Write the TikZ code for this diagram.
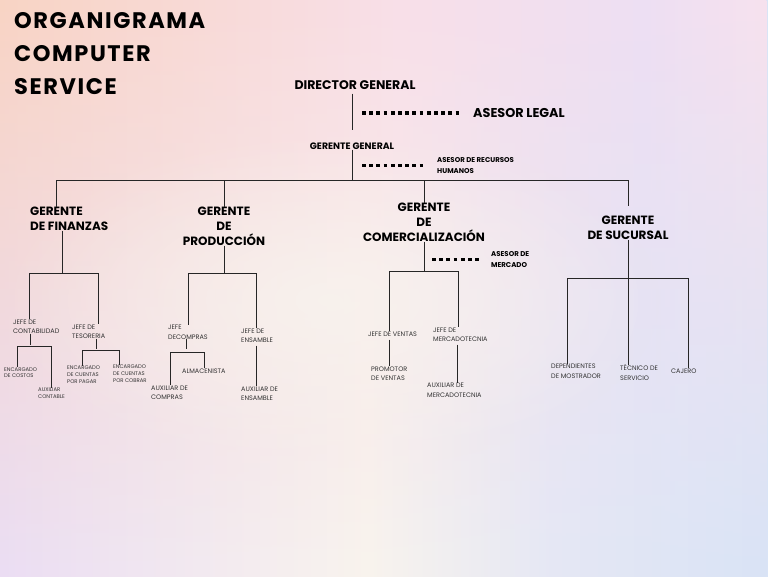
\documentclass[tikz,border=0pt]{standalone}
\usepackage{fontspec}
\setmainfont{Poppins}
\usetikzlibrary{positioning,fadings}
\definecolor{bgpeach}{RGB}{249,212,196}
\definecolor{bgpink}{RGB}{249,223,232}
\definecolor{bglila}{RGB}{238,223,243}
\definecolor{bgrosa}{RGB}{247,225,238}
\definecolor{bglilab}{RGB}{235,222,244}
\definecolor{bgcream}{RGB}{248,244,238}
\definecolor{bgbluel}{RGB}{229,232,245}
\definecolor{bgblue}{RGB}{217,228,246}
\pgfdeclarehorizontalshading{fondoarriba}{100bp}{color(0bp)=(bgpeach); color(25bp)=(bgpeach); color(51bp)=(bgpink); color(67bp)=(bglila); color(75bp)=(bgrosa); color(100bp)=(bgrosa)}
\pgfdeclarehorizontalshading{fondoabajo}{100bp}{color(0bp)=(bglilab); color(25bp)=(bglilab); color(49bp)=(bgcream); color(61bp)=(bgbluel); color(75bp)=(bgblue); color(100bp)=(bgblue)}
\tikzfading[name=arriba, top color=transparent!0, middle color=transparent!45, bottom color=transparent!100]
\tikzfading[name=centro, inner color=transparent!20, outer color=transparent!100]
\tikzset{
  tree/.style={line width=0.9pt, black!85},
  dotline/.style={line width=3.4pt, dash pattern=on 3.8pt off 3.4pt},
  titulo/.style={font=\bfseries\fontsize{22.5}{33}\selectfont\addfontfeatures{LetterSpace=7}, align=left, inner sep=0},
  jefe/.style={font=\bfseries\fontsize{12}{15}\selectfont, inner sep=0},
  asesor/.style={font=\bfseries\fontsize{7}{11}\selectfont, align=left, inner sep=0},
  puesto/.style={font=\fontsize{6.5}{9.5}\selectfont, align=left, inner sep=0, text=black!80},
  aux/.style={font=\fontsize{5.3}{6.7}\selectfont, align=left, inner sep=0, text=black!80}
}
\begin{document}
\begin{tikzpicture}[x=1pt,y=-1pt]
\useasboundingbox (0,0) rectangle (768,576);
\begin{scope}
\clip (0,0) rectangle (768,576);
\shade[shading=fondoabajo] (0,0) rectangle (768,576);
\shade[shading=fondoarriba, path fading=arriba] (0,0) rectangle (768,576);
\fill[bgcream, path fading=centro] (330,300) ellipse (330pt and 170pt);
\end{scope}

\node[titulo, anchor=west] (titulo) at (14,54) {ORGANIGRAMA\\COMPUTER\\SERVICE};

% direccion
\node[jefe, font=\bfseries\fontsize{12.5}{15}\selectfont] (dir) at (355,85) {DIRECTOR GENERAL};
\node[jefe, anchor=west, font=\bfseries\fontsize{12.8}{15}\selectfont] (legal) at (473,113) {ASESOR LEGAL};
\node[jefe, font=\bfseries\fontsize{9.3}{11}\selectfont] (gg) at (352,146) {GERENTE GENERAL};
\node[asesor, anchor=west] (rh) at (437,165.5) {ASESOR DE RECURSOS\\HUMANOS};
\coordinate (bus) at (0,180);

\draw[tree, shorten <=4pt, shorten >=12pt] (dir.south -| gg.north) -- (gg.north);
\draw[dotline, shorten <=10pt, shorten >=11pt] (legal.west -| gg.north) -- (legal.west);
\draw[dotline, shorten <=10pt, shorten >=12pt] (rh.west -| gg.south) -- (rh.west);
\draw[tree] (gg.south) -- (gg.south |- bus);

% gerencias
\node[jefe, anchor=west, align=left] (fin) at (30,218.5) {GERENTE\\DE FINANZAS};
\node[jefe, align=center] (prod) at (224,226) {GERENTE\\DE\\PRODUCCIÓN};
\node[jefe, align=center] (com) at (424,222) {GERENTE\\DE\\COMERCIALIZACIÓN};
\node[jefe, align=center] (suc) at (628,228) {GERENTE\\DE SUCURSAL};
\node[asesor, anchor=west] (merc) at (491,259.5) {ASESOR DE\\MERCADO};

\draw[tree] ([xshift=26]fin.north west) |- (suc.north |- bus) -- ([yshift=10]suc.north);
\draw[tree] (prod.north) -- (prod.north |- bus);
\draw[tree] (com.north) -- (com.north |- bus);
\draw[dotline, shorten <=8pt, shorten >=12pt] (merc.west -| com.south) -- (merc.west);

% finanzas
\node[puesto, anchor=west] (contab) at (13,326.5) {JEFE DE\\CONTABILIDAD};
\node[puesto, anchor=west] (tes) at (72,331.5) {JEFE DE\\TESORERIA};
\node[aux, anchor=west] (costos) at (4,372.5) {ENCARGADO\\DE COSTOS};
\node[aux, anchor=west] (auxcont) at (38,393.5) {AUXILIAR\\CONTABLE};
\node[aux, anchor=west] (pagar) at (67,374.5) {ENCARGADO\\DE CUENTAS\\POR PAGAR};
\node[aux, anchor=west] (cobrar) at (113,373.5) {ENCARGADO\\DE CUENTAS\\POR COBRAR};
\coordinate (finbus) at (0,273);
\draw[tree] ([xshift=32]fin.south west) -- ([xshift=32]fin.south west |- finbus);
\draw[tree] ([xshift=16]contab.north west) |- ([xshift=26]tes.north west |- finbus) -- ([xshift=26]tes.north west);
\draw[tree] ([xshift=17]contab.south west) -- ++(0,11);
\draw[tree] ([xshift=13]costos.north west) |- ([xshift=13]auxcont.north west |- 0,346) -- ([xshift=13]auxcont.north west);
\draw[tree] ([xshift=24]tes.south west) -- ++(0,10);
\draw[tree] ([xshift=15]pagar.north west) |- ([xshift=6]cobrar.north west |- 0,350) -- ([xshift=6]cobrar.north west);

% produccion
\node[puesto, anchor=west] (jcomp) at (168,332) {JEFE\\DECOMPRAS};
\node[puesto, anchor=west] (jens) at (241,335.5) {JEFE DE\\ENSAMBLE};
\node[puesto, anchor=west] (almac) at (182,371) {ALMACENISTA};
\node[puesto, anchor=west] (auxcomp) at (151,392.5) {AUXILIAR DE\\COMPRAS};
\node[puesto, anchor=west] (auxens) at (241,393.5) {AUXILIAR DE\\ENSAMBLE};
\coordinate (prodbus) at (0,273);
\draw[tree] (prod.south) -- (prod.south |- prodbus);
\draw[tree] ([xshift=20]jcomp.north west) |- ([xshift=15]jens.north west |- prodbus) -- ([xshift=15]jens.north west);
\draw[tree] ([xshift=18]jcomp.south west) -- ++(0,10);
\draw[tree] ([xshift=19]auxcomp.north west) |- ([xshift=22]almac.north west |- 0,352) -- ([xshift=22]almac.north west);
\draw[tree, shorten <=3pt] ([xshift=15]jens.south west) -- ([xshift=15]auxens.north west);

% comercializacion
\node[puesto, anchor=west] (jvent) at (368,334) {JEFE DE VENTAS};
\node[puesto, anchor=west] (jmerc) at (433,334.5) {JEFE DE\\MERCADOTECNIA};
\node[puesto, anchor=west] (promo) at (371,373.5) {PROMOTOR\\DE VENTAS};
\node[puesto, anchor=west] (auxmerc) at (427,390) {AUXILIAR DE\\MERCADOTECNIA};
\coordinate (combus) at (0,271);
\draw[tree] (com.south) -- (com.south |- combus);
\draw[tree] ([xshift=21]jvent.north west) |- ([xshift=25]jmerc.north west |- combus) -- ([xshift=25]jmerc.north west);
\draw[tree, shorten <=3pt] ([xshift=21]jvent.south west) -- ([xshift=18]promo.north west);
\draw[tree, shorten <=3pt] ([xshift=24]jmerc.south west) -- ([xshift=30]auxmerc.north west);

% sucursal
\node[puesto, anchor=west] (dep) at (551,371) {DEPENDIENTES\\DE MOSTRADOR};
\node[puesto, anchor=west] (tec) at (620,372.5) {TÉCNICO DE\\SERVICIO};
\node[puesto, anchor=west] (caj) at (671,371) {CAJERO};
\coordinate (sucbus) at (0,278);
\draw[tree] (suc.south) -- (suc.south |- tec.north);
\draw[tree] ([xshift=16]dep.north west) |- ([xshift=17]caj.north west |- sucbus) -- ([xshift=17]caj.north west);
\end{tikzpicture}
\end{document}
